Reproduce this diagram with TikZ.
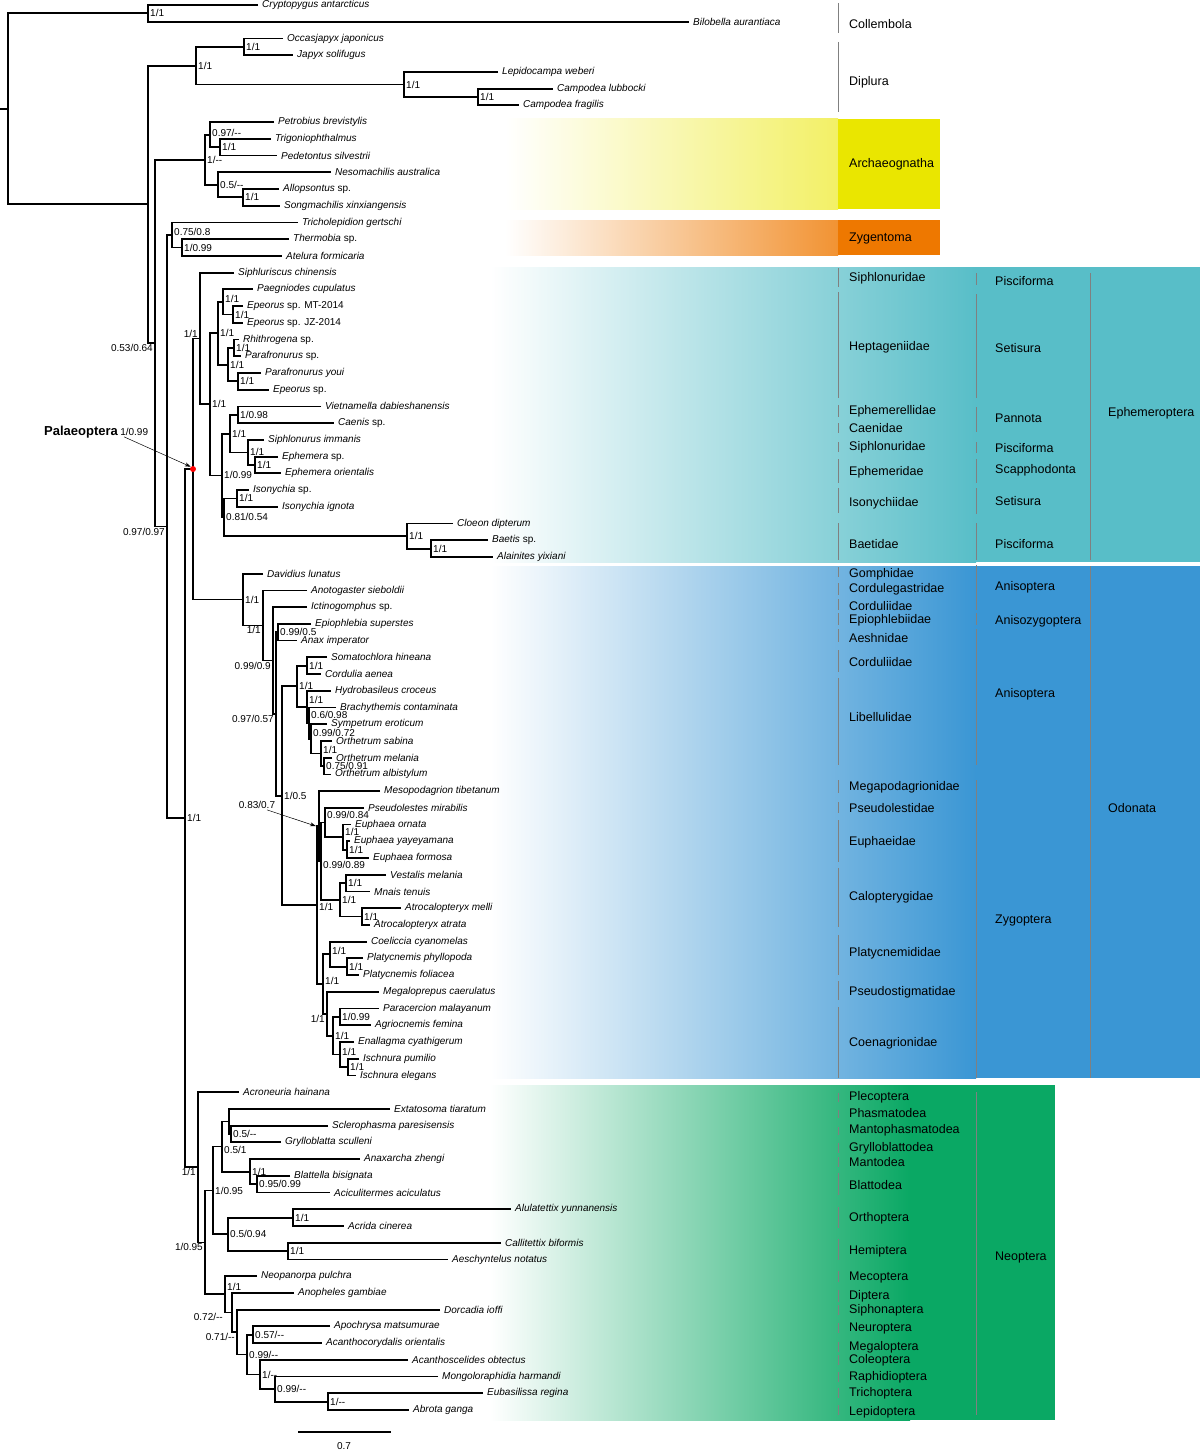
\documentclass[tikz,border=0pt]{standalone}
\usepackage{fontspec}
\setmainfont{Liberation Sans}
\usetikzlibrary{calc,arrows.meta}
\definecolor{arcY}{HTML}{EAE600}
\definecolor{zygO}{HTML}{EE7800}
\definecolor{ephT}{HTML}{58BEC8}
\definecolor{odoB}{HTML}{3A96D4}
\definecolor{neoG}{HTML}{0AA864}
\tikzset{
  branch/.style={line width=1.8pt},
  taxon/.style={anchor=west,inner xsep=4pt,inner ysep=0pt,font=\fontsize{10}{12}\selectfont\itshape},
  supp/.style={inner xsep=2pt,inner ysep=1pt,font=\fontsize{10}{12}\selectfont},
  grp/.style={anchor=west,inner sep=0pt,font=\fontsize{12.5}{15}\selectfont},
  bar/.style={gray,line width=0.7pt},
  ptr/.style={-{Stealth[length=6pt,width=4pt]},line width=0.5pt},
}
\newcommand{\nsp}{{\upshape sp.}}
\newcommand{\nodash}{-{}-}
\newcommand{\leaf}[4]{\coordinate (#1) at (#2,{5+16.726*#3}); \node[taxon] (#1-t) at (#1) {#4};}
\newcommand{\clade}[4]{%
  \coordinate (#1-m) at ($(#3)!0.5!(#4)$);
  \coordinate (#1-x) at (#2,0);
  \coordinate (#1) at (#1-x |- #1-m);
  \draw[branch] (#3) -| (#1) |- (#4);}
\newcommand{\supp}[3][right]{\node[supp,#1] (s-#2) at (#2) {#3};}
\begin{document}
\begin{tikzpicture}[x=1pt,y=-1pt]
\useasboundingbox (0,0) rectangle (1200,1450);

\shade[left color=white,right color=arcY!60] (505,119) rectangle (838,209);
\fill[arcY] (838,119) rectangle (940,209);
\shade[left color=white,right color=zygO!80] (505,220) rectangle (838,255);
\fill[zygO] (838,220) rectangle (940,255);
\shade[left color=white,right color=ephT] (490,267) rectangle (976,562);
\fill[ephT] (976,267) rectangle (1200,562);
\shade[left color=white,right color=odoB] (490,566) rectangle (976,1078);
\fill[odoB] (976,566) rectangle (1200,1078);
\shade[left color=white,right color=neoG] (490,1085) rectangle (910,1420);
\fill[neoG] (910,1085) rectangle (1055,1420);

\foreach \a/\b in {3/33,42/112,268/287,292/398,405/417,423/433,442/452,459/483,488/513,523/560,
  567/577,583/595,599/610,613/625,629/642,650/672,678/765,780/793,802/813,820/862,868/927,935/975,981/1000,1007/1078,
  1093/1102,1110/1118,1127/1135,1143/1153,1157/1167,1173/1195,1207/1228,1239/1260,1271/1282,1290/1302,1305/1315,
  1323/1333,1342/1352,1355/1365,1372/1382,1388/1398,1405/1415}
  \draw[bar] (838,\a) -- (838,\b);
\foreach \a/\b in {273/285,294/398,407/432,442/453,459/483,488/514,523/560,565/610,613/625,629/765,780/1078,1092/1415}
  \draw[bar] (976,\a) -- (976,\b);
\foreach \a/\b in {273/560,566/1078}
  \draw[bar] (1090,\a) -- (1090,\b);

\foreach \yy/\gname [count=\i] in {24/Collembola,82/Diplura,164/Archaeognatha,238/Zygentoma,278/Siphlonuridae,347/Heptageniidae,
  411/Ephemerellidae,428/Caenidae,447/Siphlonuridae,472/Ephemeridae,503/Isonychiidae,544/Baetidae,574/Gomphidae,
  589/Cordulegastridae,606/Corduliidae,620/Epiophlebiidae,638/Aeshnidae,662/Corduliidae,717/Libellulidae,
  787/Megapodagrionidae,808/Pseudolestidae,842/Euphaeidae,897/Calopterygidae,953/Platycnemididae,992/Pseudostigmatidae,
  1043/Coenagrionidae,1097/Plecoptera,1113/Phasmatodea,1130/Mantophasmatodea,1148/Grylloblattodea,1162/Mantodea,
  1185/Blattodea,1218/Orthoptera,1251/Hemiptera,1277/Mecoptera,1296/Diptera,1310/Siphonaptera,1328/Neuroptera,
  1347/Megaloptera,1360/Coleoptera,1377/Raphidioptera,1393/Trichoptera,1412/Lepidoptera}
  \node[grp] (fam\i) at (849,\yy) {\gname};
\foreach \yy/\gname [count=\i] in {281/Pisciforma,348/Setisura,418/Pannota,448/Pisciforma,470/Scapphodonta,501/Setisura,
  544/Pisciforma,587/Anisoptera,621/Anisozygoptera,694/Anisoptera,920/Zygoptera,1257/Neoptera}
  \node[grp] (sub\i) at (995,\yy) {\gname};
\node[grp] (ordEph) at (1108,413) {Ephemeroptera};
\node[grp] (ordOdo) at (1108,808) {Odonata};

\leaf{t0}{258}{0}{Cryptopygus antarcticus}
\leaf{t1}{689}{1}{Bilobella aurantiaca}
\leaf{t2}{283}{2}{Occasjapyx japonicus}
\leaf{t3}{293}{3}{Japyx solifugus}
\leaf{t4}{498}{4}{Lepidocampa weberi}
\leaf{t5}{553}{5}{Campodea lubbocki}
\leaf{t6}{519}{6}{Campodea fragilis}
\leaf{t7}{274}{7}{Petrobius brevistylis}
\leaf{t8}{271}{8}{Trigoniophthalmus}
\leaf{t9}{277}{9}{Pedetontus silvestrii}
\leaf{t10}{331}{10}{Nesomachilis australica}
\leaf{t11}{279}{11}{Allopsontus \nsp}
\leaf{t12}{280}{12}{Songmachilis xinxiangensis}
\leaf{t13}{298}{13}{Tricholepidion gertschi}
\leaf{t14}{289}{14}{Thermobia \nsp}
\leaf{t15}{282}{15}{Atelura formicaria}
\leaf{t16}{234}{16}{Siphluriscus chinensis}
\leaf{t17}{253}{17}{Paegniodes cupulatus}
\leaf{t18}{243}{18}{Epeorus {\upshape sp. MT-2014}}
\leaf{t19}{243}{19}{Epeorus {\upshape sp. JZ-2014}}
\leaf{t20}{239}{20}{Rhithrogena \nsp}
\leaf{t21}{241}{21}{Parafronurus \nsp}
\leaf{t22}{261}{22}{Parafronurus youi}
\leaf{t23}{269}{23}{Epeorus \nsp}
\leaf{t24}{321}{24}{Vietnamella dabieshanensis}
\leaf{t25}{334}{25}{Caenis \nsp}
\leaf{t26}{264}{26}{Siphlonurus immanis}
\leaf{t27}{278}{27}{Ephemera \nsp}
\leaf{t28}{281}{28}{Ephemera orientalis}
\leaf{t29}{249}{29}{Isonychia \nsp}
\leaf{t30}{278}{30}{Isonychia ignota}
\leaf{t31}{453}{31}{Cloeon dipterum}
\leaf{t32}{488}{32}{Baetis \nsp}
\leaf{t33}{493}{33}{Alainites yixiani}
\leaf{t34}{263}{34}{Davidius lunatus}
\leaf{t35}{307}{35}{Anotogaster sieboldii}
\leaf{t36}{307}{36}{Ictinogomphus \nsp}
\leaf{t37}{311}{37}{Epiophlebia superstes}
\leaf{t38}{297}{38}{Anax imperator}
\leaf{t39}{327}{39}{Somatochlora hineana}
\leaf{t40}{321}{40}{Cordulia aenea}
\leaf{t41}{331}{41}{Hydrobasileus croceus}
\leaf{t42}{336}{42}{Brachythemis contaminata}
\leaf{t43}{327}{43}{Sympetrum eroticum}
\leaf{t44}{332}{44}{Orthetrum sabina}
\leaf{t45}{332}{45}{Orthetrum melania}
\leaf{t46}{331}{46}{Orthetrum albistylum}
\leaf{t47}{380}{47}{Mesopodagrion tibetanum}
\leaf{t48}{364}{48}{Pseudolestes mirabilis}
\leaf{t49}{351}{49}{Euphaea ornata}
\leaf{t50}{350}{50}{Euphaea yayeyamana}
\leaf{t51}{369}{51}{Euphaea formosa}
\leaf{t52}{386}{52}{Vestalis melania}
\leaf{t53}{370}{53}{Mnais tenuis}
\leaf{t54}{401}{54}{Atrocalopteryx melli}
\leaf{t55}{370}{55}{Atrocalopteryx atrata}
\leaf{t56}{367}{56}{Coeliccia cyanomelas}
\leaf{t57}{363}{57}{Platycnemis phyllopoda}
\leaf{t58}{359}{58}{Platycnemis foliacea}
\leaf{t59}{379}{59}{Megaloprepus caerulatus}
\leaf{t60}{379}{60}{Paracercion malayanum}
\leaf{t61}{371}{61}{Agriocnemis femina}
\leaf{t62}{354}{62}{Enallagma cyathigerum}
\leaf{t63}{359}{63}{Ischnura pumilio}
\leaf{t64}{356}{64}{Ischnura elegans}
\leaf{t65}{239}{65}{Acroneuria hainana}
\leaf{t66}{390}{66}{Extatosoma tiaratum}
\leaf{t67}{328}{67}{Sclerophasma paresisensis}
\leaf{t68}{281}{68}{Grylloblatta sculleni}
\leaf{t69}{360}{69}{Anaxarcha zhengi}
\leaf{t70}{290}{70}{Blattella bisignata}
\leaf{t71}{330}{71}{Aciculitermes aciculatus}
\leaf{t72}{511}{72}{Alulatettix yunnanensis}
\leaf{t73}{344}{73}{Acrida cinerea}
\leaf{t74}{501}{74}{Callitettix biformis}
\leaf{t75}{448}{75}{Aeschyntelus notatus}
\leaf{t76}{257}{76}{Neopanorpa pulchra}
\leaf{t77}{294}{77}{Anopheles gambiae}
\leaf{t78}{440}{78}{Dorcadia ioffi}
\leaf{t79}{330}{79}{Apochrysa matsumurae}
\leaf{t80}{322}{80}{Acanthocorydalis orientalis}
\leaf{t81}{408}{81}{Acanthoscelides obtectus}
\leaf{t82}{438}{82}{Mongoloraphidia harmandi}
\leaf{t83}{483}{83}{Eubasilissa regina}
\leaf{t84}{409}{84}{Abrota ganga}

\clade{Coll}{148}{t0}{t1} \supp{Coll}{1/1}
\clade{Jap}{244}{t2}{t3} \supp{Jap}{1/1}
\clade{CampB}{478}{t5}{t6} \supp{CampB}{1/1}
\clade{Camp}{404}{t4}{CampB} \supp{Camp}{1/1}
\clade{Dipl}{196}{Jap}{Camp} \supp{Dipl}{1/1}
\clade{ArcB}{220}{t8}{t9} \supp{ArcB}{1/1}
\clade{ArcA}{210}{t7}{ArcB} \supp[right,yshift=2pt]{ArcA}{0.97/\nodash}
\clade{ArcD}{243}{t11}{t12} \supp{ArcD}{1/1}
\clade{ArcC}{218}{t10}{ArcD} \supp{ArcC}{0.5/\nodash}
\clade{Arc}{205}{ArcA}{ArcC} \supp{Arc}{1/\nodash}
\clade{ZygB}{182}{t14}{t15} \supp{ZygB}{1/0.99}
\clade{Zyg}{172}{t13}{ZygB} \supp[right,yshift=3pt]{Zyg}{0.75/0.8}

\clade{HpC}{233}{t18}{t19} \supp{HpC}{1/1}
\clade{HpB}{223}{t17}{HpC} \supp[right,yshift=3pt]{HpB}{1/1}
\clade{HpE}{234}{t20}{t21} \supp{HpE}{1/1}
\clade{HpF}{238}{t22}{t23} \supp{HpF}{1/1}
\clade{HpD}{228}{HpE}{HpF} \supp{HpD}{1/1}
\clade{HpA}{218}{HpB}{HpD} \supp{HpA}{1/1}
\clade{Pan}{238}{t24}{t25} \supp{Pan}{1/0.98}
\clade{EphB}{255}{t27}{t28} \supp{EphB}{1/1}
\clade{EphA}{248}{t26}{EphB} \supp{EphA}{1/1}
\clade{EpY}{230}{Pan}{EphA} \supp{EpY}{1/1}
\clade{Iso}{237}{t29}{t30} \supp{Iso}{1/1}
\clade{BaeB}{431}{t32}{t33} \supp{BaeB}{1/1}
\clade{Bae}{407}{t31}{BaeB} \supp{Bae}{1/1}
\clade{EpZ}{224}{Iso}{Bae} \supp{EpZ}{0.81/0.54}
\clade{EpX}{222}{EpY}{EpZ} \supp{EpX}{1/0.99}
\clade{EpB}{210}{HpA}{EpX} \supp{EpB}{1/1}
\clade{EpA}{200}{t16}{EpB} \supp[above left]{EpA}{1/1}

\clade{OdEA}{278}{t37}{t38} \supp{OdEA}{0.99/0.5}
\clade{Cor}{307}{t39}{t40} \supp{Cor}{1/1}
\clade{LbE}{324}{t45}{t46} \supp{LbE}{0.75/0.91}
\clade{LbD}{321}{t44}{LbE} \supp[right,yshift=4pt]{LbD}{1/1}
\clade{LbC}{311}{t43}{LbD} \supp[right,yshift=6pt]{LbC}{0.99/0.72}
\clade{LbB}{309}{t42}{LbC} \supp[right,yshift=8pt]{LbB}{0.6/0.98}
\clade{LbA}{307}{t41}{LbB} \supp[right,yshift=7pt]{LbA}{1/1}
\clade{Lib}{297}{Cor}{LbA} \supp{Lib}{1/1}
\clade{EuB}{347}{t50}{t51} \supp{EuB}{1/1}
\clade{EuA}{343}{t49}{EuB} \supp[right,yshift=5pt]{EuA}{1/1}
\clade{PE}{325}{t48}{EuA} \supp[right,yshift=8pt]{PE}{0.99/0.84}
\clade{VM}{346}{t52}{t53} \supp{VM}{1/1}
\clade{Atr}{362}{t54}{t55} \supp{Atr}{1/1}
\clade{Cal}{340}{VM}{Atr} \supp{Cal}{1/1}
\clade{ZgA}{321}{PE}{Cal} \supp[right,yshift=-4pt]{ZgA}{0.99/0.89}
\clade{ZgM}{319}{t47}{ZgA}
\clade{PlB}{347}{t57}{t58} \supp{PlB}{1/1}
\clade{PlA}{330}{t56}{PlB} \supp[right,yshift=3pt]{PlA}{1/1}
\clade{Isc}{348}{t63}{t64} \supp{Isc}{1/1}
\clade{EI}{340}{t62}{Isc} \supp[right,yshift=3pt]{EI}{1/1}
\clade{PA}{340}{t60}{t61} \supp{PA}{1/0.99}
\clade{CoA}{333}{PA}{EI} \supp{CoA}{1/1}
\clade{MC}{327}{t59}{CoA} \supp[below left]{MC}{1/1}
\clade{ZgB}{323}{PlA}{MC} \supp[right,yshift=3pt]{ZgB}{1/1}
\clade{Zg}{317}{ZgM}{ZgB} \supp[right,yshift=-2pt]{Zg}{1/1}
\clade{OdE}{282}{Lib}{Zg} \supp{OdE}{1/0.5}
\clade{OdD}{276}{OdEA}{OdE} \supp[below left]{OdD}{0.97/0.57}
\clade{OdC}{273}{t36}{OdD} \supp[below left]{OdC}{0.99/0.9}
\clade{OdB}{263}{t35}{OdC} \supp[below left]{OdB}{1/1}
\clade{Odo}{243}{t34}{OdB} \supp{Odo}{1/1}
\clade{Pal}{193}{EpA}{Odo}

\clade{PlcC}{231}{t67}{t68} \supp{PlcC}{0.5/\nodash}
\clade{PlcB}{229}{t66}{PlcC}
\clade{DicB}{257}{t70}{t71} \supp{DicB}{0.95/0.99}
\clade{DicA}{250}{t69}{DicB} \supp{DicA}{1/1}
\clade{PlcA}{222}{PlcB}{DicA} \supp[right,yshift=-3pt]{PlcA}{0.5/1}
\clade{Ort}{293}{t72}{t73} \supp{Ort}{1/1}
\clade{Hem}{288}{t74}{t75} \supp{Hem}{1/1}
\clade{OH}{228}{Ort}{Hem} \supp{OH}{0.5/0.94}
\clade{PN}{213}{PlcA}{OH} \supp{PN}{1/0.95}
\clade{HoH}{328}{t83}{t84} \supp{HoH}{1/\nodash}
\clade{HoG}{275}{t82}{HoH} \supp{HoG}{0.99/\nodash}
\clade{HoF}{260}{t81}{HoG} \supp{HoF}{1/\nodash}
\clade{HoE}{253}{t79}{t80} \supp{HoE}{0.57/\nodash}
\clade{HoD}{247}{HoE}{HoF} \supp{HoD}{0.99/\nodash}
\clade{HoC}{237}{t78}{HoD} \supp[below left]{HoC}{0.71/\nodash}
\clade{HoB}{232}{t77}{HoC}
\clade{HoA}{225}{t76}{HoB} \supp[right,yshift=7pt]{HoA}{1/1}
\node[supp,below left] (s-HoB) at (HoB -| HoA) {0.72/\nodash};
\clade{NeoB}{205}{PN}{HoA} \supp[below left]{NeoB}{1/0.95}
\clade{Neo}{198}{t65}{NeoB} \supp[below left]{Neo}{1/1}

\clade{Pter}{185}{Pal}{Neo} \supp{Pter}{1/1}
\clade{Dic}{167}{Zyg}{Pter} \supp[below left]{Dic}{0.97/0.97}
\clade{Ins}{155}{Arc}{Dic} \supp[below left]{Ins}{0.53/0.64}
\clade{Hex}{148}{Dipl}{Ins}
\clade{Root}{8}{Coll}{Hex}
\draw[branch] (Root) -- ++(-8,0);

\node[circle,fill=red,inner sep=0pt,minimum size=6pt] (pdot) at (Pal) {};
\node[anchor=west,inner sep=0pt,font=\fontsize{13}{15}\selectfont\bfseries] (palname) at (44,432) {Palaeoptera};
\node[supp,anchor=west] (s-Pal) at (palname.east) {1/0.99};
\draw[ptr] ([xshift=6pt]s-Pal.south west) -- (pdot.north west);
\node[supp] (s-ZgM) at (257,805) {0.83/0.7};
\draw[ptr] ([xshift=10pt]s-ZgM.south) -- ([xshift=-3pt]ZgM);

\coordinate (sbL) at (298,1432);
\coordinate (sbR) at (391,1432);
\draw[branch] (sbL) -- (sbR);
\node[supp] (sbT) at (344,1446) {0.7};
\end{tikzpicture}
\end{document}
